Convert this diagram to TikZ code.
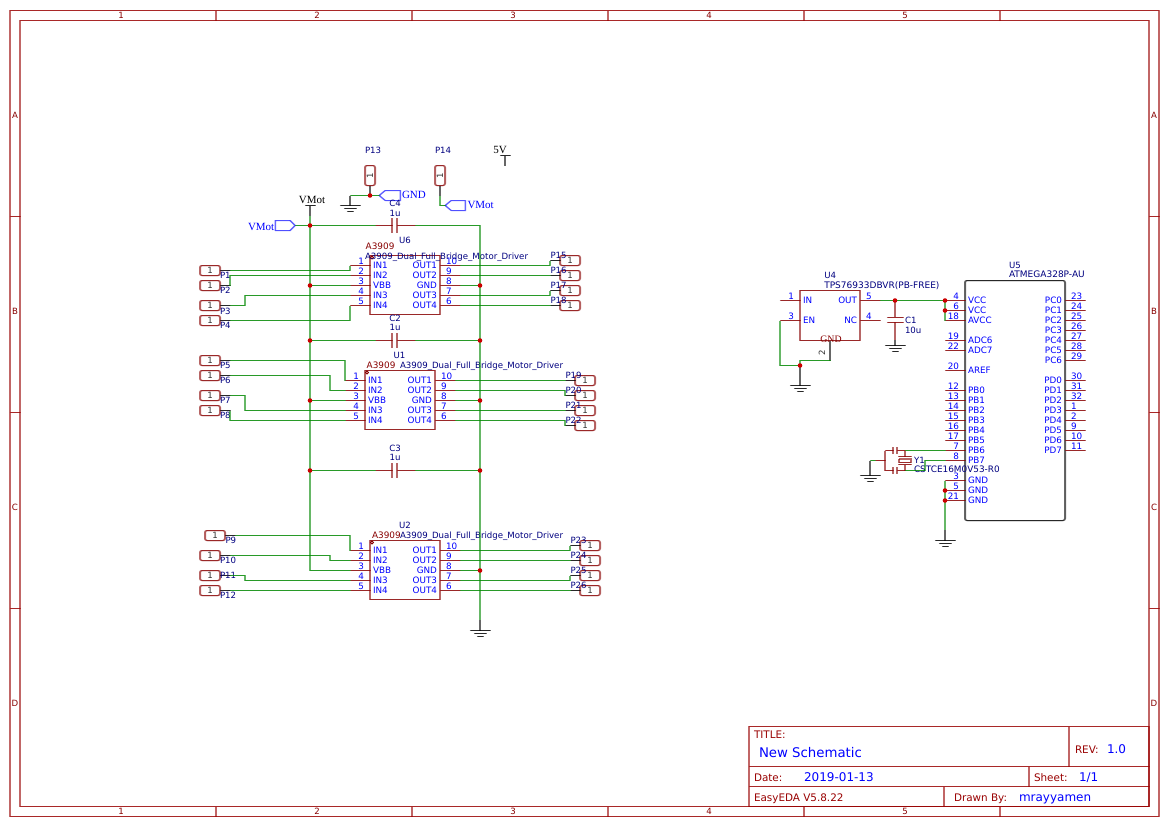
\documentclass[tikz,border=0pt]{standalone}
\usepackage{fontspec}
\setmainfont{DejaVu Sans}
\newfontfamily\flagserif{Liberation Serif}
\usetikzlibrary{calc}
\definecolor{pinred}{HTML}{880000}
\definecolor{framered}{HTML}{990000}
\definecolor{wiregreen}{HTML}{008800}
\definecolor{pinblue}{HTML}{0000FF}
\definecolor{refnavy}{HTML}{000080}
\definecolor{dotred}{HTML}{CC0000}
\newcommand{\fsz}[1]{\fontsize{#1pt}{#1pt}\selectfont}
\tikzset{
  x=1pt,y=-1pt,
  txt/.style={inner sep=0pt,outer sep=0pt,font=\fsz{8.6},yshift=-3.2pt},
  tw/.style={txt,anchor=base west},
  te/.style={txt,anchor=base east},
  tc/.style={txt,anchor=base},
  pinname/.style={text=pinblue,font=\fsz{8.8}},
  navyt/.style={text=refnavy},
  redt/.style={text=pinred},
  serifflag/.style={inner sep=0pt,outer sep=0pt,font={\flagserif\fsz{11}},yshift=-3.5pt,anchor=base west},
  softdraw/.style={draw=none,line width=1pt,
    preaction={draw=#1,opacity=.6,transform canvas={xshift=-.5pt}},
    postaction={draw=#1,opacity=.6,transform canvas={xshift=.5pt}}},
  wire/.style={softdraw=wiregreen},
  pinline/.style={softdraw=pinred},
  blackline/.style={softdraw=black},
  framel/.style={softdraw=framered},
  icbox/.style={softdraw=pinred,inner sep=0pt,outer sep=0pt},
  mcubox/.style={softdraw=black,inner sep=0pt,outer sep=0pt,rounded corners=2pt},
  connbox/.style={softdraw=pinred,inner sep=0pt,outer sep=0pt,minimum width=20pt,minimum height=10pt,rounded corners=2pt,font=\fsz{8.6},text=black!80},
  flag/.style={softdraw=pinblue},
  dot/.style={fill=dotred,draw=none},
  titlelab/.style={inner sep=0pt,outer sep=0pt,anchor=base west,text=framered,font=\fsz{10.4}},
  titleval/.style={inner sep=0pt,outer sep=0pt,anchor=base west,text=pinblue,font=\fsz{12}},
}
\newcommand{\lpin}[5]{%
  \draw[pinline] (#4-20,#5) coordinate (#1-#2) -- (#4,#5);
  \node[te,pinname] (#1-#2-n) at (#4-6,#5-4) {#2};
  \node[tw,pinname] (#1-#2-t) at (#4+3,#5) {#3};}
\newcommand{\rpin}[5]{%
  \draw[pinline] (#4,#5) -- (#4+20,#5) coordinate (#1-#2);
  \node[tw,pinname] (#1-#2-n) at (#4+6,#5-4) {#2};
  \node[te,pinname] (#1-#2-t) at (#4-3,#5) {#3};}
\newcommand{\pleft}[5]{%
  \node[connbox] (#1) at (#2,#3) {1};
  \draw[blackline] (#1.east) -- ++(10,0) coordinate (#1e);
  \node[tw,navyt] (#1-l) at (#4,#5) {#1};}
\newcommand{\pright}[5]{%
  \node[connbox] (#1) at (#2,#3) {1};
  \draw[blackline] (#1.west) -- ++(-10,0) coordinate (#1e);
  \node[tw,navyt] (#1-l) at (#4,#5) {#1};}
\newcommand{\gndsym}[4]{%
  \coordinate (#1) at (#2,#3);
  \draw[blackline] (#1) -- (#2,#4);
  \draw[blackline] (#2-10,#4) -- (#2+10,#4) (#2-6,#4+3) -- (#2+6,#4+3) (#2-3,#4+6) -- (#2+3,#4+6);}
\newcommand{\hcap}[3]{%
  \draw[pinline] (375,#2) coordinate (#1l) -- (392,#2) (397,#2) -- (415,#2) coordinate (#1r);
  \draw[pinline] (392,#2-7.5) -- (392,#2+7.5) (397,#2-7.5) -- (397,#2+7.5);
  \node[tc,navyt] (#1-n) at (395,#3) {#1};
  \node[tc,navyt] (#1-v) at (395,#3+9.3) {1u};}
\newcommand{\driver}[3]{%
  \node[icbox,minimum width=70pt,minimum height=59pt] (#1) at (#2+35,#3+29.5) {};
  \draw[pinred,line width=.8pt] (#2+2,#3+2) circle (1.5);
  \foreach \n/\t/\d in {1/IN1/10,2/IN2/20,3/VBB/30,4/IN3/40,5/IN4/50}{\lpin{#1}{\n}{\t}{#2}{#3+\d}}
  \foreach \n/\t/\d in {10/OUT1/10,9/OUT2/20,8/GND/30,7/OUT3/40,6/OUT4/50}{\rpin{#1}{\n}{\t}{#2+70}{#3+\d}}}
\begin{document}
\begin{tikzpicture}
\useasboundingbox (0,0) rectangle (1169,827);
\fill[white] (0,0) rectangle (1169,827);
%% sheet frame
\draw[framel] (10,10.5) rectangle (1159,816.5);
\draw[framel] (20,20.5) rectangle (1149,806.5);
\foreach \x in {216,412,608,804,1000}{
  \draw[framel] (\x,10.5) -- (\x,20.5);
  \draw[framel] (\x,806.5) -- (\x,816.5);}
\foreach \y in {216.5,412.5,608.5}{
  \draw[framel] (10,\y) -- (20,\y);
  \draw[framel] (1149,\y) -- (1159,\y);}
\foreach \x/\l in {121/1,317/2,513/3,709/4,905/5}{
  \node[tc,redt] (top\l) at (\x,15.5) {\l};
  \node[tc,redt] (bot\l) at (\x,811.5) {\l};}
\foreach \y/\l in {115/A,311/B,507/C,703/D}{
  \node[tc,redt] (lft\l) at (15,\y) {\l};
  \node[tc,redt] (rgt\l) at (1154,\y) {\l};}
%% title block
\draw[framel] (749,726.5) rectangle (1149,806.5);
\draw[framel] (749,766.5) -- (1149,766.5) (749,786.5) -- (1149,786.5);
\draw[framel] (1069,726.5) -- (1069,766.5) (1029,766.5) -- (1029,786.5) (944,786.5) -- (944,806.5);
\node[titlelab] (tb1) at (754,738.5) {TITLE:};
\node[titleval,font=\fsz{13.3}] (tb2) at (759,757) {New Schematic};
\node[titlelab] (tb3) at (1075,753) {REV:};
\node[titleval] (tb4) at (1107,753.5) {1.0};
\node[titlelab] (tb5) at (754,781.5) {Date:};
\node[titleval] (tb6) at (804,781.5) {2019-01-13};
\node[titlelab] (tb7) at (1034,781.5) {Sheet:};
\node[titleval] (tb8) at (1079,781.5) {1/1};
\node[titlelab] (tb9) at (754,801.5) {EasyEDA V5.8.22};
\node[titlelab] (tb10) at (954,801.5) {Drawn By:};
\node[titleval] (tb11) at (1019,801.5) {mrayyamen};
%% drivers
\driver{u6}{370}{255.5}
\driver{u1}{365}{370.5}
\driver{u2}{370}{540.5}
\node[tc,navyt] (u6n) at (405,240.7) {U6};
\node[tw,redt,font=\fsz{8.9}] (u6v) at (365.7,246.7) {A3909};
\node[tw,navyt] (u6d) at (365,256) {A3909\_Dual\_Full\_Bridge\_Motor\_Driver};
\node[tc,navyt] (u1n) at (399.5,355.7) {U1};
\node[tw,redt,font=\fsz{8.9}] (u1v) at (366.7,365.7) {A3909};
\node[tw,navyt] (u1d) at (400,365.7) {A3909\_Dual\_Full\_Bridge\_Motor\_Driver};
\node[tc,navyt] (u2n) at (405,525.7) {U2};
\node[tw,redt,font=\fsz{8.9}] (u2v) at (372,535.7) {A3909};
\node[tw,navyt] (u2d) at (400,535.7) {A3909\_Dual\_Full\_Bridge\_Motor\_Driver};
%% connectors, driver U6
\pleft{P1}{210}{270.5}{220}{275.6}
\pleft{P2}{210}{285.5}{220}{290.6}
\pleft{P3}{210}{305.5}{220}{311}
\pleft{P4}{210}{320.5}{220}{325.7}
\pright{P15}{570}{260.5}{550.5}{255}
\pright{P16}{570}{275.5}{550.5}{270.5}
\pright{P17}{570}{290.5}{550.5}{285.5}
\pright{P18}{570}{305.5}{550.5}{300.5}
%% connectors, driver U1
\pleft{P5}{210}{360.5}{220}{365.7}
\pleft{P6}{210}{375.5}{220}{380.7}
\pleft{P7}{210}{395.5}{220}{400.7}
\pleft{P8}{210}{410.5}{220}{415.7}
\pright{P19}{585}{380.5}{565.5}{375.7}
\pright{P20}{585}{395.5}{565.5}{390.5}
\pright{P21}{585}{410.5}{565.5}{405.5}
\pright{P22}{585}{425.5}{565.5}{420.7}
%% connectors, driver U2
\pleft{P9}{215}{535.5}{225.5}{540.7}
\pleft{P10}{210}{555.5}{220}{560.7}
\pleft{P11}{210}{575.5}{220}{575.7}
\pleft{P12}{210}{590.5}{220}{595.7}
\pright{P23}{590}{545.5}{570.5}{540.7}
\pright{P24}{590}{560.5}{570.5}{555.5}
\pright{P25}{590}{575.5}{570.5}{570.7}
\pright{P26}{590}{590.5}{570.5}{585.7}
%% P13, P14
\node[connbox,rotate=90] (P13) at (370,175.5) {1};
\draw[blackline] (P13.west) -- ++(0,10) coordinate (P13e);
\node[tw,navyt] (P13-l) at (365,150.7) {P13};
\node[connbox,rotate=90] (P14) at (440,175.5) {1};
\draw[blackline] (P14.west) -- ++(0,10) coordinate (P14e);
\node[tw,navyt] (P14-l) at (435,150.7) {P14};
%% net flags
\draw[flag] (379,195.5) coordinate (fgnd) -- (385,190.5) -- (400,190.5) -- (400,200.5) -- (385,200.5) -- cycle;
\node[serifflag,text=pinblue] (fgndt) at (402,194.5) {GND};
\draw[flag] (445,205.5) coordinate (fvm1) -- (451,200.5) -- (465,200.5) -- (465,210.5) -- (451,210.5) -- cycle;
\node[serifflag,text=pinblue] (fvm1t) at (467.5,205) {VMot};
\draw[flag] (295,225.5) coordinate (fvm2) -- (290,230.5) -- (275,230.5) -- (275,220.5) -- (290,220.5) -- cycle;
\node[serifflag,text=pinblue] (fvm2t) at (248,227.3) {VMot};
%% power symbols
\draw[blackline] (500,155.5) -- (510,155.5) (505,155.5) -- (505,166);
\node[serifflag,anchor=base] (five) at (500,150) {5V};
\draw[blackline] (305,205.5) -- (315,205.5) (310,205.5) -- (310,216) coordinate (vm);
\node[serifflag,anchor=base] (vmt) at (312,200) {VMot};
\gndsym{g1}{350}{195.5}{205.5}
\gndsym{g2}{480}{620}{630.5}
\gndsym{g3}{800}{365.5}{385.5}
\gndsym{g4}{895}{340}{345.5}
\gndsym{g5}{870}{460.5}{475.5}
\gndsym{g6}{945}{530}{540.5}
%% capacitors
\hcap{C4}{225.5}{203.5}
\hcap{C2}{340.5}{318}
\hcap{C3}{470.5}{448}
%% U4
\node[icbox,minimum width=60pt,minimum height=50pt] (u4) at (830,315.5) {};
\lpin{u4}{1}{IN}{800}{300.5}
\lpin{u4}{3}{EN}{800}{320.5}
\rpin{u4}{5}{OUT}{860}{300.5}
\rpin{u4}{4}{NC}{860}{320.5}
\draw[blackline] (830,340.5) -- (830,360.5) coordinate (u4-2);
\node[txt,text=black!80,rotate=90,anchor=center,yshift=3.2pt] (u4-2-n) at (825,350) {2};
\node[serifflag,anchor=base,text=pinred,font={\flagserif\fsz{9.8}},yshift=-3.2pt] (u4g) at (831,335.7) {GND};
\node[tw,navyt] (u4n) at (824.3,275.3) {U4};
\node[tw,navyt,font=\fsz{9}] (u4d) at (824.3,285) {TPS76933DBVR(PB-FREE)};
%% C1
\draw[pinline] (895,300.5) coordinate (c1t) -- (895,317.3) (895,322.3) -- (895,340) coordinate (c1b);
\draw[pinline] (887,317.3) -- (903,317.3) (887,322.3) -- (903,322.3);
\node[tw,navyt] (c1n) at (905,320.7) {C1};
\node[tw,navyt] (c1v) at (905,330) {10u};
%% U5
\node[mcubox,minimum width=100pt,minimum height=240pt] (u5) at (1015,400.5) {};
\foreach \n/\t/\y in {4/VCC/300.5,6/VCC/310.5,18/AVCC/320.5,19/ADC6/340.5,22/ADC7/350.5,20/AREF/370.5,12/PB0/390.5,13/PB1/400.5,14/PB2/410.5,15/PB3/420.5,16/PB4/430.5,17/PB5/440.5,7/PB6/450.5,8/PB7/460.5,3/GND/480.5,5/GND/490.5,21/GND/500.5}{\lpin{u5}{\n}{\t}{965}{\y}}
\foreach \n/\t/\y in {23/PC0/300.5,24/PC1/310.5,25/PC2/320.5,26/PC3/330.5,27/PC4/340.5,28/PC5/350.5,29/PC6/360.5,30/PD0/380.5,31/PD1/390.5,32/PD2/400.5,1/PD3/410.5,2/PD4/420.5,9/PD5/430.5,10/PD6/440.5,11/PD7/450.5}{\rpin{u5}{\n}{\t}{1065}{\y}}
\node[tw,navyt] (u5n) at (1009,265.7) {U5};
\node[tw,navyt,font=\fsz{9}] (u5d) at (1009,274.7) {ATMEGA328P-AU};
%% Y1
\draw[pinline] (875,460.5) coordinate (y1g) -- (885,460.5);
\draw[pinline] (885,450.5) -- (885,470.5);
\draw[pinline] (885,450.5) -- (893,450.5) (897,450.5) -- (905,450.5) coordinate (y1a);
\draw[pinline] (885,470.5) -- (893,470.5) (897,470.5) -- (905,470.5) coordinate (y1b);
\draw[pinline] (893,447) -- (893,454) (897,447) -- (897,454) (893,467) -- (893,474) (897,467) -- (897,474);
\draw[pinline] (905,450.5) -- (905,456.5) (905,464.5) -- (905,470.5);
\draw[pinline] (898.5,456.5) -- (911.5,456.5) (898.5,464.5) -- (911.5,464.5);
\draw[pinline] (899,458.7) rectangle (911,462.3);
\node[tw,navyt] (y1n) at (914,460.7) {Y1};
\node[tw,navyt,font=\fsz{8.9}] (y1d) at (914,469.7) {CSTCE16M0V53-R0};
%% wires
\draw[wire] (P1e) -| (u6-1);
\draw[wire] (P2e) |- (u6-2);
\draw[wire] (P3e) -- ++(15,0) |- (u6-4);
\draw[wire] (P4e) -| (u6-5);
\draw[wire] (u6-10) -| (P15e);
\draw[wire] (u6-9) -- (P16e);
\draw[wire] (u6-7) -| (P17e);
\draw[wire] (u6-6) -- (P18e);
\draw[wire] (P5e) -| (u1-1);
\draw[wire] (P6e) -- ++(100,0) |- (u1-2);
\draw[wire] (P7e) -- ++(15,0) |- (u1-4);
\draw[wire] (P8e) |- (u1-5);
\draw[wire] (u1-10) -- (P19e);
\draw[wire] (u1-9) -| (P20e);
\draw[wire] (u1-7) -- (P21e);
\draw[wire] (u1-6) -| (P22e);
\draw[wire] (P9e) -| (u2-1);
\draw[wire] (P10e) -- ++(100,0) |- (u2-2);
\draw[wire] (P11e) -- ++(15,0) |- (u2-4);
\draw[wire] (P12e) -- (u2-5);
\draw[wire] (u2-10) -| (P23e);
\draw[wire] (u2-9) -- (P24e);
\draw[wire] (u2-7) -| (P25e);
\draw[wire] (u2-6) -- (P26e);
\draw[wire] (vm) |- (u2-3);
\draw[wire] (C4r) -| (g2);
\draw[wire] (fvm2) -- (C4l);
\draw[wire] (u6-3) -- (u6-3 -| vm);
\draw[wire] (u1-3) -- (u1-3 -| vm);
\draw[wire] (u6-8) -- (u6-8 -| g2);
\draw[wire] (u1-8) -- (u1-8 -| g2);
\draw[wire] (u2-8) -- (u2-8 -| g2);
\draw[wire] (C2l -| vm) -- (C2l);
\draw[wire] (C2r) -- (C2r -| g2);
\draw[wire] (C3l -| vm) -- (C3l);
\draw[wire] (C3r) -- (C3r -| g2);
\draw[wire] (P13e) -- (g1);
\draw[wire] (P13e) -- (fgnd);
\draw[wire] (P14e) |- (fvm1);
\draw[wire] (u4-5) -- (u5-4);
\draw[wire] (u5-4) -- (u5-18);
\draw[wire] (u4-2) -- (u4-2 -| g3) -- (g3) -- (g3 -| u4-3) -- (u4-3);
\draw[wire] (y1g) -- (g5);
\draw[wire] (y1a) -- (u5-7);
\draw[wire] (y1b) -- ++(20,0) |- (u5-8);
\draw[wire] (u5-3) -- (g6);
%% junctions
\foreach \c in {P13e,{u6-3 -| vm},{u1-3 -| vm},{C2l -| vm},{C3l -| vm},{C4l -| vm},{u6-8 -| g2},{u1-8 -| g2},{u2-8 -| g2},{C2r -| g2},{C3r -| g2},g3,c1t,u5-4,u5-6,u5-5,u5-21}
  \fill[dot] (\c) circle (2.3);
\end{tikzpicture}
\end{document}
